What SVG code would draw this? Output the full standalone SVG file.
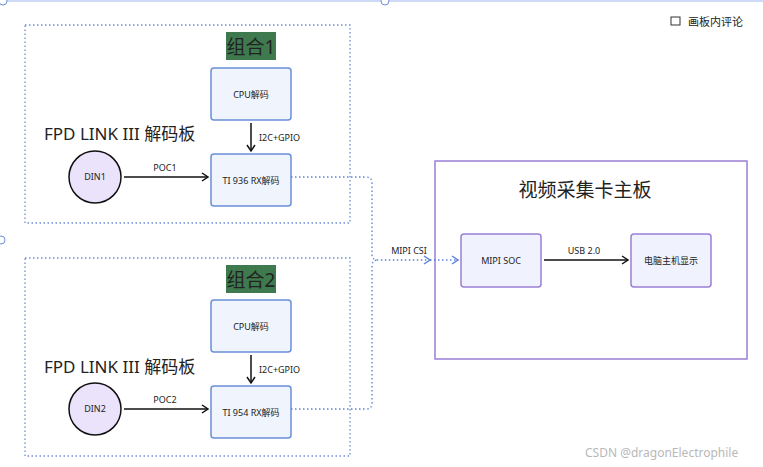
<svg xmlns="http://www.w3.org/2000/svg" width="763" height="467" viewBox="0 0 763 467">
<defs>
<marker id="ab" markerWidth="10" markerHeight="10" refX="8" refY="5" orient="auto" markerUnits="userSpaceOnUse"><path d="M2,1 L8,5 L2,9" fill="none" stroke="#111" stroke-width="1.5"/></marker>
<marker id="abl" markerWidth="10" markerHeight="10" refX="8" refY="5" orient="auto" markerUnits="userSpaceOnUse"><path d="M2,1 L8,5 L2,9" fill="none" stroke="#5b82d6" stroke-width="1.5"/></marker>
</defs>
<style>
text{font-family:"Noto Sans","Noto Sans CJK SC",sans-serif;fill:#222}
.grp{fill:none;stroke:#6f8fd6;stroke-width:1.3;stroke-dasharray:1.5 2.5}
.bx{fill:#eff4fd;stroke:#6a8fd8;stroke-width:1.5}
.pb{fill:#f0f3fd;stroke:#9a7fd6;stroke-width:1.5}
.s{font-size:9px;text-anchor:middle}
.lbl{font-size:9px}
.ln{stroke:#111;stroke-width:1.5;fill:none}
.dl{stroke:#5b82d6;stroke-width:1.3;fill:none;stroke-dasharray:1.5 2.5}
</style>
<line x1="0" y1="1" x2="763" y2="1" stroke="#9db6ee" stroke-width="1"/>
<circle cx="3" cy="1" r="4" fill="#fff" stroke="#6f8fd6"/>
<circle cx="385" cy="1" r="4" fill="#fff" stroke="#6f8fd6"/>
<circle cx="1" cy="240" r="4" fill="#fff" stroke="#6f8fd6"/>
<text x="688" y="26" font-size="11">画板内评论</text>
<rect x="671" y="17" width="9" height="8" fill="none" stroke="#333" stroke-width="1"/>
<g id="group1">
<rect class="grp" x="25" y="25" width="325" height="198"/>
<rect x="226" y="32" width="50" height="28" fill="#3e7a4e"/>
<text x="251" y="54" font-size="19" text-anchor="middle">组合1</text>
<text x="44" y="140" font-size="17">FPD LINK  III 解码板</text>
</g>
<g id="cpu1"><rect class="bx" x="211" y="68" width="80" height="52" rx="3"/><text class="s" x="251" y="98">CPU解码</text></g>
<g id="ti1"><rect class="bx" x="211" y="154" width="80" height="52" rx="3"/><text class="s" x="251" y="184">TI 936 RX解码</text></g>
<g id="din1"><circle cx="95" cy="177" r="26" fill="#ebe2fb" stroke="#111" stroke-width="1.5"/><text class="s" x="95" y="180">DIN1</text></g>
<g id="group2">
<rect class="grp" x="25" y="258" width="325" height="198"/>
<rect x="226" y="265" width="50" height="28" fill="#3e7a4e"/>
<text x="251" y="287" font-size="19" text-anchor="middle">组合2</text>
<text x="44" y="373" font-size="17">FPD LINK  III 解码板</text>
</g>
<g id="cpu2"><rect class="bx" x="211" y="300" width="80" height="52" rx="3"/><text class="s" x="251" y="330">CPU解码</text></g>
<g id="ti2"><rect class="bx" x="211" y="386" width="80" height="52" rx="3"/><text class="s" x="251" y="416">TI 954 RX解码</text></g>
<g id="din2"><circle cx="95" cy="409" r="26" fill="#ebe2fb" stroke="#111" stroke-width="1.5"/><text class="s" x="95" y="412">DIN2</text></g>
<g id="board">
<rect x="435" y="161" width="312" height="198" fill="#fff" stroke="#9a7fd6" stroke-width="1.5"/>
<text x="585" y="197" font-size="19" text-anchor="middle">视频采集卡主板</text>
</g>
<g id="soc"><rect class="pb" x="461" y="234" width="80" height="53" rx="3"/><text class="s" x="501" y="264">MIPI SOC</text></g>
<g id="pc"><rect class="pb" x="631" y="234" width="80" height="53" rx="3"/><text class="s" x="671" y="264">电脑主机显示</text></g>
<g id="connectors">
<line class="ln" x1="251" y1="123" x2="251" y2="151" marker-end="url(#ab)"/>
<text class="lbl" x="259" y="141">I2C+GPIO</text>
<line class="ln" x1="124" y1="177" x2="208" y2="177" marker-end="url(#ab)"/>
<text class="s" x="165" y="171">POC1</text>
<line class="ln" x1="251" y1="355" x2="251" y2="383" marker-end="url(#ab)"/>
<text class="lbl" x="259" y="373">I2C+GPIO</text>
<line class="ln" x1="124" y1="409" x2="208" y2="409" marker-end="url(#ab)"/>
<text class="s" x="165" y="403">POC2</text>
<path class="dl" d="M291,177 H366 Q372,177 372,183 V255 Q372,260 378,260 H430" marker-end="url(#abl)"/>
<path class="dl" d="M291,409 H366 Q372,409 372,403 V266 Q372,260 378,260"/>
<line class="dl" x1="430" y1="260" x2="458" y2="260" marker-end="url(#abl)"/>
<text class="s" x="409" y="254">MIPI CSI</text>
<line class="ln" x1="544" y1="260" x2="628" y2="260" marker-end="url(#ab)"/>
<text class="s" x="584" y="254">USB 2.0</text>
</g>
<text x="585" y="457" font-size="12" fill="#bbb" style="fill:#b8b8b8">CSDN @dragonElectrophile</text>
</svg>
